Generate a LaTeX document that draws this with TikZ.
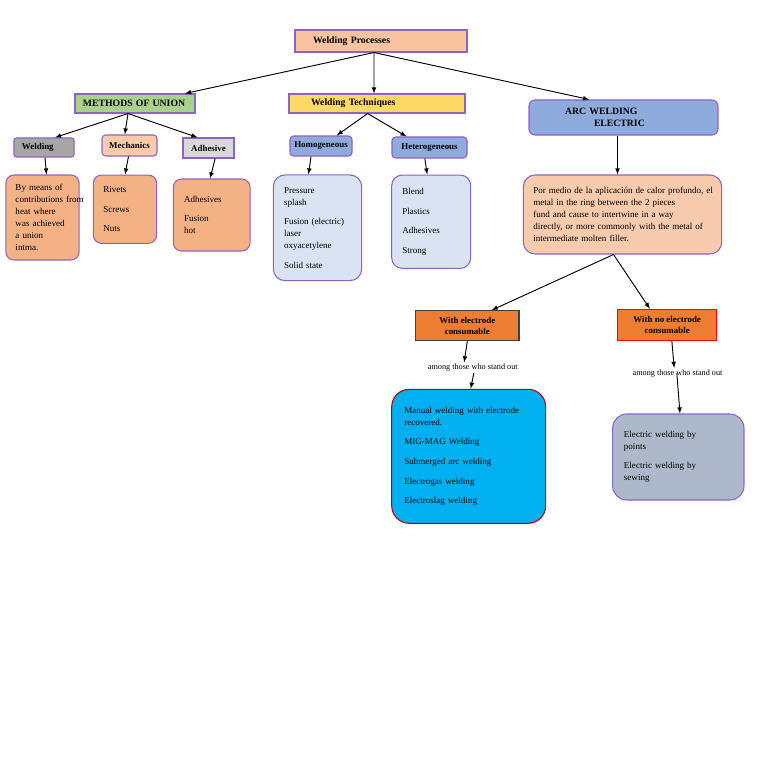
\documentclass[tikz,border=0pt]{standalone}
\usepackage{fontspec}
\setmainfont{Liberation Serif}
\definecolor{bord}{RGB}{142,99,198}
\definecolor{peach}{RGB}{248,195,158}
\definecolor{lpeach}{RGB}{248,203,173}
\definecolor{orng}{RGB}{244,177,131}
\definecolor{grn}{RGB}{169,209,142}
\definecolor{ylw}{RGB}{255,217,102}
\definecolor{blu}{RGB}{143,170,220}
\definecolor{lblu}{RGB}{218,227,243}
\definecolor{dorng}{RGB}{237,125,49}
\definecolor{cyn}{RGB}{0,176,240}
\definecolor{gblu}{RGB}{173,185,202}
\begin{document}
\begin{tikzpicture}[x=0.03cm,y=-0.03cm,
  head/.style={draw=bord,line width=0.9pt,font=\fontsize{8.3}{10.2}\selectfont\bfseries,inner sep=0pt},
  sub/.style={draw=bord,line width=0.9pt,font=\fontsize{7.6}{9.7}\selectfont\bfseries,inner sep=0pt,align=center},
  item/.style={draw=bord,line width=0.9pt,rounded corners=7pt,font=\fontsize{7.7}{10.2}\selectfont,align=left,inner ysep=0pt},
  note/.style={font=\fontsize{7}{8}\selectfont,inner sep=1pt},
  every path/.style={line width=0.8pt}]
\useasboundingbox (0,0) rectangle (768,762);
\node[head,fill=peach,minimum height=0.66cm,align=left,text width=4.08cm,inner xsep=0.54cm](wp) at (381,41){Welding Processes};
\node[head,fill=grn,minimum height=0.57cm,align=left,text width=3.12cm,inner xsep=0.24cm](mu) at (135,103.5){METHODS OF UNION};
\node[head,fill=ylw,minimum height=0.57cm,align=left,text width=3.96cm,inner xsep=0.66cm](wt) at (377,103.5){Welding Techniques};
\node[head,fill=blu,rounded corners=5pt,minimum height=1.05cm,align=left,text width=3.51cm,inner xsep=1.08cm](arc) at (623.5,117.5){ARC WELDING\\\hspace*{0.87cm}ELECTRIC};
\node[sub,fill=gray!70,rounded corners=2pt,minimum height=0.57cm,align=left,text width=1.32cm,inner xsep=0.24cm](we) at (44,147.5){Welding};
\node[sub,fill=lpeach,rounded corners=3pt,minimum width=1.65cm,minimum height=0.63cm](me) at (129.5,145.5){Mechanics};
\node[sub,fill=gray!30,minimum width=1.53cm,minimum height=0.6cm](ad) at (208.5,148){Adhesive};
\node[sub,fill=blu,rounded corners=3pt,minimum width=1.86cm,minimum height=0.6cm](ho) at (321,146){Homogeneous};
\node[sub,fill=blu,rounded corners=3pt,minimum width=2.25cm,minimum height=0.63cm](he) at (429.5,147.5){Heterogeneous};
\node[item,fill=orng,minimum height=2.55cm,text width=1.62cm,inner xsep=0.29cm](b1) at (42.5,217.5){By means of\\\mbox{contributions from}\\heat where\\was achieved\\a union\\intma.};
\node[item,fill=orng,minimum height=2.05cm,text width=1.3cm,inner xsep=0.3cm](b2) at (125,209.2){Rivets\\[6.5pt]Screws\\[6.5pt]Nuts};
\node[item,fill=orng,minimum height=2.16cm,text width=1.66cm,inner xsep=0.32cm](b3) at (211.7,215){Adhesives\\[6.5pt]Fusion\\hot};
\node[item,fill=lblu,rounded corners=10pt,minimum height=3.17cm,text width=2.01cm,inner xsep=0.32cm](b4) at (317.5,227.8){Pressure\\splash\\[6.5pt]Fusion (electric)\\laser\\oxyacetylene\\[6.5pt]Solid state};
\node[item,fill=lblu,rounded corners=9pt,minimum height=2.8cm,text width=1.73cm,inner xsep=0.32cm](b5) at (431.2,221.7){Blend\\[6.5pt]Plastics\\[6.5pt]Adhesives\\[6.5pt]Strong};
\node[item,fill=lpeach,rounded corners=10pt,minimum height=2.37cm,text width=5.35cm,inner xsep=0.3cm](b6) at (622.5,214.5){\mbox{Por medio de la aplicación de calor profundo, el}\\metal in the ring between the 2 pieces\\fund and cause to intertwine in a way\\\mbox{directly, or more commonly with the metal of}\\intermediate molten filler.};
\node[sub,fill=dorng,draw=black!75,minimum width=3.1cm,minimum height=0.9cm](wc) at (467.3,325.7){With electrode\\consumable};
\node[sub,fill=dorng,draw=red,minimum width=2.97cm,minimum height=0.94cm](wn) at (667.2,325){With no electrode\\consumable};
\node[note](l1) at (472.8,367.7){among those who stand out};
\node[note](l2) at (677.5,373.3){among those who stand out};
\node[item,fill=cyn,draw=red!70!black,rounded corners=15pt,minimum height=4.02cm,text width=3.86cm,inner xsep=0.38cm](b7) at (468.7,456.3){Manual welding with electrode\\recovered.\\[6.5pt]MIG-MAG Welding\\[6.5pt]Submerged arc welding\\[6.5pt]Electrogas welding\\[6.5pt]Electroslag welding};
\node[item,fill=gblu,rounded corners=12pt,minimum height=2.58cm,text width=3.26cm,inner xsep=0.34cm](b8) at (678.3,457){Electric welding by\\points\\[6.5pt]Electric welding by\\sewing};
\draw[-latex]([xshift=-0.21cm]wp.south)--([xshift=1.5cm]mu.north);
\draw[-latex]([xshift=-0.21cm]wp.south)--([xshift=-0.09cm]wt.north);
\draw[-latex]([xshift=-0.21cm]wp.south)--([xshift=-1.03cm]arc.north);
\draw[-latex]([xshift=-0.21cm]mu.south)--([xshift=0.33cm]we.north);
\draw[-latex]([xshift=-0.21cm]mu.south)--([xshift=-0.14cm]me.north);
\draw[-latex]([xshift=-0.21cm]mu.south)--([xshift=-0.33cm]ad.north);
\draw[-latex]([xshift=-0.28cm]wt.south)--([xshift=0.47cm]ho.north);
\draw[-latex]([xshift=-0.28cm]wt.south)--([xshift=-0.69cm]he.north);
\draw[-latex]([xshift=0.03cm]we.south)--([xshift=0.12cm]b1.north);
\draw[-latex]([xshift=-0.03cm]me.south)--(b2.north);
\draw[-latex]([xshift=0.2cm]ad.south)--([xshift=-0.05cm]b3.north);
\draw[-latex]([xshift=-0.3cm]ho.south)--([xshift=-0.27cm]b4.north);
\draw[-latex]([xshift=-0.14cm]he.south)--([xshift=-0.12cm]b5.north);
\draw[-latex]([xshift=-0.18cm]arc.south)--([xshift=-0.15cm]b6.north);
\draw[-latex]([xshift=-0.27cm]b6.south)--([xshift=0.73cm]wc.north);
\draw[-latex]([xshift=-0.27cm]b6.south)--([xshift=-0.52cm]wn.north);
\draw[-latex](wc.south)--([xshift=-0.26cm]l1.north);
\draw[-latex]([xshift=0.03cm]l1.south)--([xshift=0.06cm]b7.north);
\draw[-latex]([xshift=0.14cm]wn.south)--([xshift=-0.1cm]l2.north);
\draw[-latex]([xshift=-0.02cm]l2.center)--([xshift=0.05cm]b8.north);
\end{tikzpicture}
\end{document}
